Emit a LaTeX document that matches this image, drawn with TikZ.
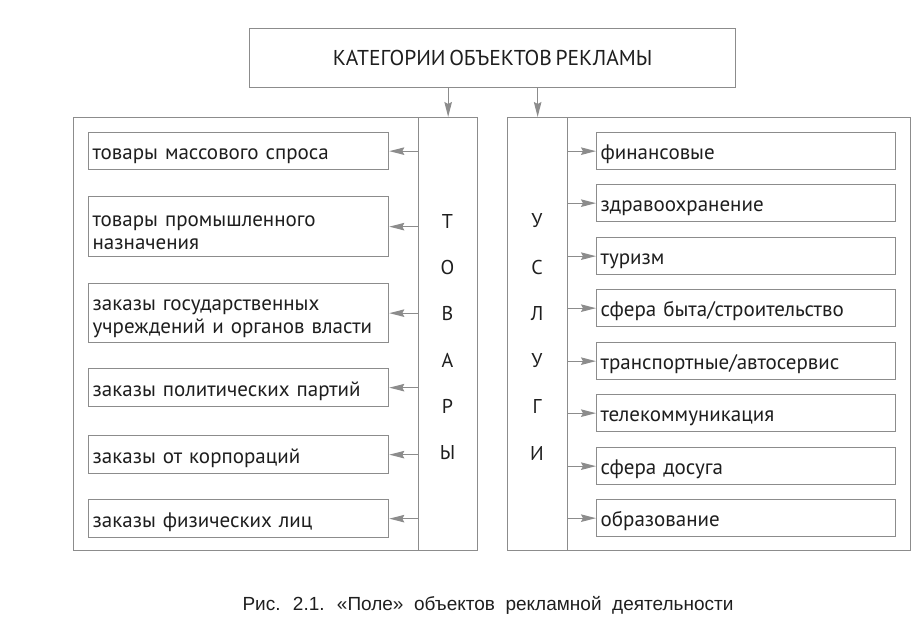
\documentclass[tikz,border=0pt]{standalone}
\usepackage{fontspec}
\setmainfont[WordSpace=0.65]{PT Sans}
\newfontfamily\capfont[WordSpace=2]{Liberation Sans}
\usetikzlibrary{arrows.meta}
\definecolor{linegray}{RGB}{140,140,140}
\definecolor{inkblack}{RGB}{30,30,30}

\begin{document}
\begin{tikzpicture}[x=1pt,y=-1pt,
		box/.style = {draw=linegray, line width=1.3pt, anchor=north west, inner sep=0pt},
		item/.style = {draw=linegray, line width=1.3pt, anchor=north west, minimum height=37pt,
			text width=292pt, inner xsep=4pt, align=left, text=inkblack,
			font=\fontsize{21}{23}\selectfont},
		oneline/.style = {item, text height=22pt, text depth=5pt},
		twoline/.style = {item, execute at begin node={\rule{0pt}{22pt}}},
		letter/.style = {text=inkblack, font=\fontsize{20}{20}\selectfont},
		arr/.style = {draw=linegray, line width=1.3pt, -{Stealth[length=15pt,width=7.5pt,inset=2pt]}}
			]
		\useasboundingbox (0,0) rectangle (924,622);

		% top box
		\node [box, minimum width=486pt, minimum height=59pt, text=inkblack,
			font=\fontsize{21.5}{21.5}\selectfont] (title) at (249,28) {КАТЕГОРИИ ОБЪЕКТОВ РЕКЛАМЫ};

		% frames and strips
		\node [box, minimum width=404pt, minimum height=433pt] (goodsframe) at (73,117) {};
		\node [box, minimum width=59pt, minimum height=433pt] (goods) at (418,117) {};
		\node [box, minimum width=403pt, minimum height=433pt] (servframe) at (507,117) {};
		\node [box, minimum width=60pt, minimum height=433pt] (serv) at (507,117) {};

		\foreach \ch [count=\i] in {Т,О,В,А,Р,Ы}
			\node [letter] (g\i) at (447.5,174.6+46.4*\i) {\ch};
		\foreach \ch [count=\i] in {У,С,Л,У,Г,И}
			\node [letter] (s\i) at (537,174.6+46.4*\i) {\ch};

		% goods
		\node [oneline] (g-mass) at (88,132) {товары массового спроса};
		\node [twoline, minimum height=60pt] (g-ind) at (88,196) {товары промышленного\\назначения};
		\node [twoline, minimum height=59pt] (g-gov) at (88,283) {заказы государственных\\учреждений и органов власти};
		\node [oneline, minimum height=38pt] (g-pol) at (88,368) {заказы политических партий};
		\node [oneline, minimum height=38pt] (g-corp) at (88,435) {заказы от корпораций};
		\node [oneline, minimum height=38pt] (g-pers) at (88,499) {заказы физических лиц};

		% services
		\node [oneline, text width=291pt] (s-fin) at (596,132) {финансовые};
		\node [oneline, text width=291pt] (s-health) at (596,184) {здравоохранение};
		\node [oneline, text width=291pt] (s-tour) at (596,237) {туризм};
		\node [oneline, text width=291pt] (s-build) at (596,289) {сфера быта/строительство};
		\node [oneline, text width=291pt] (s-trans) at (596,342) {транспортные/автосервис};
		\node [oneline, text width=291pt] (s-tele) at (596,394) {телекоммуникация};
		\node [oneline, text width=291pt] (s-leis) at (596,447) {сфера досуга};
		\node [oneline, text width=291pt] (s-edu) at (596,499) {образование};

		% arrows
		\draw [arr] (title.south -| goods.north) -- (goods.north);
		\draw [arr] (title.south -| serv.north) -- (serv.north);
		\foreach \n in {g-mass,g-ind,g-gov,g-pol,g-corp,g-pers}
			\draw [arr] (goods.west |- \n.east) -- (\n.east);
		\foreach \n in {s-fin,s-health,s-tour,s-build,s-trans,s-tele,s-leis,s-edu}
			\draw [arr] (serv.east |- \n.west) -- (\n.west);

		\node [text=inkblack, font=\capfont\fontsize{19}{19}\selectfont] (caption) at (488,605)
			{Рис. 2.1. «Поле» объектов рекламной деятельности};

	\end{tikzpicture}
\end{document}
